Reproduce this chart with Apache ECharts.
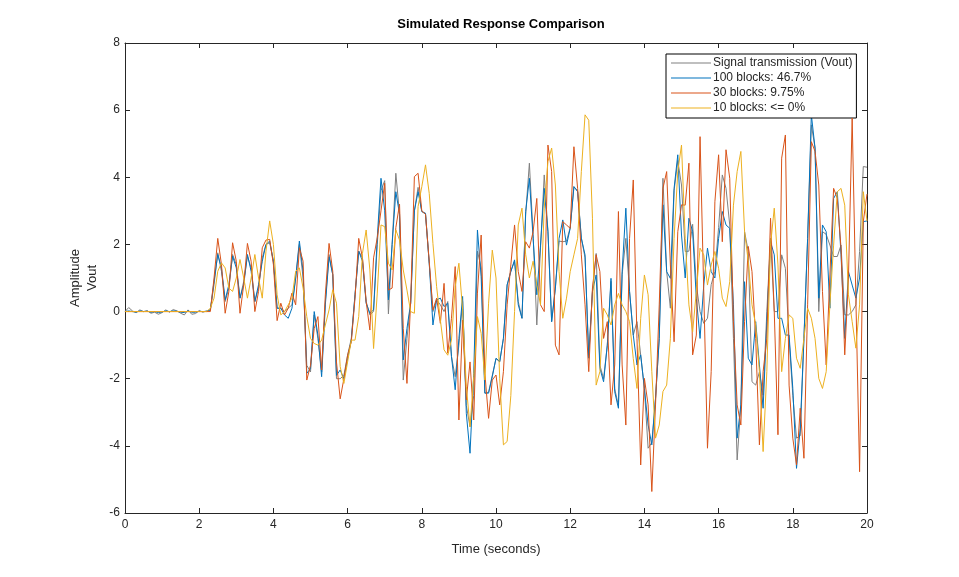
<!DOCTYPE html>
<html>
<head>
<meta charset="utf-8">
<script src="https://cdn.jsdelivr.net/npm/echarts@6/dist/echarts.min.js"></script>
<style>
  html, body { margin: 0; padding: 0; background: #fff; }
  #chart { width: 959px; height: 577px; }
</style>
</head>
<body>
<div id="chart"></div>
<script>
// sample period of the simulated data (seconds)
const sampleTime = 0.1;

const seriesNames = ['Signal transmission (Vout)', '100 blocks: 46.7%', '30 blocks: 9.75%', '10 blocks: <= 0%'];

// measured output
const measured = [
  0.0, 0.12, 0.02, -0.03, 0.05, 0.0, 0.03, -0.05, -0.02, -0.08,
  -0.03, 0.05, -0.02, 0.06, 0.02, -0.05, -0.1, 0.05, -0.08, -0.06,
  0.03, -0.02, 0.02, 0.05, 0.8, 1.75, 1.2, 0.3, 0.7, 1.7,
  1.4, 0.4, 0.9, 1.65, 1.3, 0.3, 0.7, 1.6, 2.0, 2.05,
  1.5, 0.1, 0.1, 0.0, 0.1, 0.2, 1.0, 2.0, 1.0, -1.6,
  -1.8, -0.1, -0.8, -1.8, 0.3, 1.7, 1.1, -2.0, -2.0, -1.9,
  -1.3, -0.8, 0.5, 1.8, 1.6, 0.3, -0.1, 0.0, 2.0, 3.6,
  3.9, -0.07, 2.0, 4.12, 2.9, -2.04, -0.8, 0.25, 3.0, 3.7,
  2.98, 2.9, 1.44, 0.0, 0.35, 0.2, 0.0, 0.3, -1.34, -1.94,
  -1.0, 0.3, -2.8, -3.43, -2.5, 1.8, 1.3, -2.43, -2.4, -1.9,
  -1.4, -1.5, -0.8, 0.8, 1.2, 1.5, 0.3, -0.2, 2.9, 4.42,
  2.3, -0.4, 1.9, 4.07, 2.4, -0.3, 0.7, 2.1, 2.08, 2.1,
  2.5, 3.72, 3.6, 2.2, 1.6, -1.3, 0.6, 1.73, -1.6, -2.0,
  -1.0, 0.9, -2.3, -2.8, 1.1, 2.18, 0.6, -0.7, -0.3, -1.3,
  -2.3, -4.07, -3.9, -2.6, -0.8, 3.97, 1.2, 0.1, 3.6, 4.5,
  3.77, 1.79, 1.8, 2.6, 0.8, 0.0, -0.35, -0.2, 0.8, 1.19,
  2.5, 4.07, 3.67, 2.58, -0.8, -4.42, -2.78, 2.38, 1.79, -2.09,
  -2.19, -1.8, -2.49, 0.0, 2.18, 0.0, 0.0, 1.69, 1.29, -0.8,
  -2.5, -3.77, -3.7, -0.8, 2.18, 5.56, 4.87, 0.0, 2.38, 2.3,
  1.98, 1.64, 1.64, 1.98, -0.1, -0.1, 0.0, 0.2, 1.79, 4.32,
  4.3
];

// model with 100 blocks
const blocks100 = [
  0.0, 0.02, 0.0, -0.02, 0.02, 0.0, 0.01, -0.02, 0.0, -0.03,
  -0.01, 0.02, 0.0, 0.02, 0.01, -0.02, -0.03, 0.02, -0.02, -0.02,
  0.01, 0.0, 0.01, 0.05, 0.9, 1.7, 1.3, 0.35, 0.8, 1.65,
  1.3, 0.4, 0.8, 1.7, 1.2, 0.3, 0.8, 1.5, 2.0, 2.1,
  1.5, 0.1, 0.1, -0.1, -0.2, 0.1, 1.0, 2.1, 1.2, -1.84,
  -1.7, 0.0, -0.7, -1.94, 0.2, 1.63, 1.1, -1.9, -1.74, -2.0,
  -1.4, -0.85, 0.5, 1.8, 1.5, 0.25, -0.05, 0.05, 2.2, 3.97,
  3.0, 0.35, 2.0, 3.57, 2.9, -1.44, -0.5, 0.25, 3.0, 3.57,
  2.98, 2.93, 1.44, -0.4, 0.35, 0.4, 0.15, 0.25, -1.34, -2.33,
  -0.8, 0.45, -3.03, -4.22, -1.84, 2.43, 1.04, -2.43, -2.43, -1.94,
  -1.39, -1.49, -0.8, 0.79, 1.19, 1.54, 0.2, -0.2, 2.98, 3.97,
  2.18, 0.5, 1.98, 3.67, 2.38, -0.3, 0.7, 2.18, 2.73, 1.98,
  2.48, 3.72, 3.57, 2.18, 1.69, -1.39, 0.6, 1.09, -1.69, -2.09,
  -1.0, 0.99, -2.39, -2.88, 1.19, 3.08, 0.6, -0.7, -1.59, -1.29,
  -2.29, -3.38, -3.97, -2.58, -0.8, 3.18, 1.19, 0.99, 3.67, 4.67,
  2.28, 1.0, 2.78, 2.38, 0.4, -0.8, 0.79, 1.89, 1.19, 1.0,
  2.18, 2.98, 2.58, 2.48, 0.2, -3.77, -2.78, 0.89, -1.39, -1.59,
  -0.3, -1.59, -2.88, -0.3, 2.08, 1.69, -0.2, -0.2, -0.7, -0.7,
  -2.29, -4.67, -3.48, -0.8, 2.18, 5.86, 4.87, 0.4, 2.58, 2.38,
  0.1, 3.37, 3.57, 1.69, -0.8, 1.19, 0.79, 0.4, 1.0, 2.68,
  2.7
];

// model with 30 blocks
const blocks30 = [
  0.0, 0.0, 0.0, 0.0, 0.0, 0.0, 0.0, 0.0, 0.0, 0.0,
  0.0, 0.0, 0.0, 0.0, 0.0, 0.0, 0.0, 0.0, 0.0, 0.0,
  0.0, 0.0, 0.0, 0.0, 1.0, 2.18, 1.4, -0.05, 0.6, 2.05,
  1.5, -0.05, 0.8, 2.03, 1.5, 0.0, 0.6, 1.9, 2.13, 2.15,
  1.4, -0.27, 0.25, -0.1, 0.1, 0.55, 0.2, 1.9, 1.5, -2.04,
  -1.6, -0.5, -0.15, -1.74, 0.5, 2.03, 1.2, -1.5, -2.6, -2.0,
  -1.3, -0.9, 0.4, 2.18, 1.6, 0.3, -0.55, 1.6, 2.2, 3.0,
  3.82, 0.64, 0.7, 2.5, 3.2, -0.5, -2.14, 0.3, 4.02, 4.12,
  3.0, 2.9, 1.5, 0.05, 0.4, -0.35, 0.84, -1.24, -0.2, 1.34,
  -3.23, -0.25, -2.63, -1.5, -3.23, 0.55, 2.28, -1.84, -3.18, -2.04,
  -1.89, -2.78, -1.79, 0.2, 1.39, 2.58, 1.19, 0.6, 2.08, 1.89,
  2.38, 3.37, 0.2, 0.0, 4.96, 4.17, -1.0, -1.29, 2.68, 2.58,
  2.48, 4.91, 3.67, 1.69, 0.2, -1.79, 0.7, 1.69, 1.19, -0.8,
  -0.3, -2.78, -1.59, 2.98, -1.59, -3.38, 2.18, 3.92, -0.8, -4.57,
  -1.99, -2.78, -5.36, -2.78, 0.2, 3.67, 4.17, 1.39, -0.9, 2.38,
  3.18, 3.17, 4.42, -1.29, -0.7, 5.21, 0.6, -4.07, -1.79, 3.27,
  4.67, 2.08, 4.82, 3.97, -0.3, -2.78, -3.38, -0.3, 1.94, 1.19,
  -0.8, -3.97, -1.79, -0.8, 2.78, 0.0, -3.67, 4.57, 5.26, -2.19,
  -3.77, -4.57, -2.88, -4.37, 0.2, 5.06, 4.77, 3.77, 0.6, -1.59,
  1.09, 3.67, 3.37, 1.89, -1.29, 1.0, 5.76, 0.4, -4.77, 2.68,
  3.5
];

// model with 10 blocks
const blocks10 = [
  0.0, 0.0, 0.0, 0.0, 0.0, 0.0, 0.0, 0.0, 0.0, 0.0,
  0.0, 0.0, 0.0, 0.0, 0.0, 0.0, 0.0, 0.0, 0.0, 0.0,
  0.0, 0.0, 0.0, 0.1, 0.4, 1.2, 1.45, 1.3, 0.7, 0.6,
  1.0, 1.55, 1.0, 0.4, 1.0, 1.7, 1.0, 0.4, 1.8, 2.7,
  2.0, 0.5, -0.1, 0.0, 0.2, 0.4, 1.2, 1.3, 0.7, -0.15,
  -0.8, -0.95, -1.0, -0.85, -0.4, 0.05, 0.65, 0.25, -1.64, -2.14,
  -1.5, -0.85, -0.85, -0.15, 1.73, 2.43, 1.24, -1.1, 0.55, 2.58,
  2.53, 1.44, 1.24, 2.43, 2.13, 1.24, 0.64, 0.0, -0.05, 3.13,
  3.72, 4.37, 3.52, 2.03, 0.74, -0.25, -1.14, -1.3, -0.85, 0.74,
  1.44, 0.05, -2.23, -3.43, -1.94, -0.15, -0.65, -2.04, 0.25, 1.83,
  1.0, -2.0, -3.97, -3.87, -2.5, 0.0, 2.58, 3.08, 1.7, 1.0,
  1.5, 0.8, 0.2, 3.08, 4.47, 4.87, 3.77, 1.19, -0.2, 0.4,
  1.19, 1.69, 2.18, 4.17, 5.86, 5.7, 2.78, -2.19, -1.79, 0.1,
  -0.1, -0.4, 0.2, 0.54, 0.2, 0.0, -0.3, -1.4, -2.29, -0.2,
  1.09, 0.5, -1.79, -3.77, -3.38, -2.38, -2.19, -0.8, 2.18, 4.17,
  4.96, 2.18, 0.2, -0.6, 0.6, 1.89, 1.69, 0.79, 1.39, 1.79,
  1.29, 0.4, 0.15, 0.89, 3.17, 4.17, 4.77, 2.38, 1.49, 0.2,
  -0.4, -1.79, -4.17, -1.79, 1.98, 3.08, 1.39, -1.79, -0.8, -0.1,
  -0.2, -1.39, -1.69, -0.8, 0.1, -0.2, -0.8, -1.99, -2.29, -1.79,
  0.2, 1.98, 3.57, 3.67, 3.17, 0.5, -0.3, -1.09, 0.2, 3.57,
  2.7
];

const lineColors = ['#808080', '#0072BD', '#D95319', '#EDB120'];
const axisColor = '#262626';
const fontFamily = 'Liberation Sans, Arial, sans-serif';

const toPoints = (values) => values.map((v, i) => [+(i * sampleTime).toFixed(1), v]);

const chart = echarts.init(document.getElementById('chart'), null, { renderer: 'canvas' });

/* 坐标轴公共样式：刻度朝内，MATLAB 风格 */
const boxAxis = (extra) => Object.assign({
  type: 'value',
  axisLine: { show: true, onZero: false, lineStyle: { color: axisColor, width: 1 } },
  axisTick: { show: true, inside: true, length: 5, lineStyle: { color: axisColor } },
  splitLine: { show: false },
}, extra);

const option = {
  backgroundColor: '#fff',
  animation: false,
  title: {
    text: 'Simulated Response Comparison',
    left: 496, top: 13, textAlign: 'center',
    textStyle: { fontFamily, fontSize: 13, fontWeight: 'bold', color: '#000' }
  },
  legend: {
    orient: 'vertical',
    left: 666, top: 54,
    icon: 'rect',
    itemWidth: 40, itemHeight: 1, itemGap: 1,
    padding: [2, 4, 3, 5],
    backgroundColor: '#fff',
    borderColor: '#000', borderWidth: 1, borderRadius: 0,
    textStyle: { fontFamily, fontSize: 12, color: axisColor, lineHeight: 14, padding: [0, 0, 0, -3] },
    data: seriesNames
  },
  grid: { left: 125, right: 92, top: 43, bottom: 64, containLabel: false },
  xAxis: [
    boxAxis({
      min: 0, max: 20, interval: 2,
      name: 'Time (seconds)', nameLocation: 'middle', nameGap: 30,
      nameTextStyle: { fontFamily, fontSize: 13, color: axisColor },
      axisLabel: { fontFamily, fontSize: 12, color: axisColor, margin: 6 }
    }),
    boxAxis({ position: 'top', min: 0, max: 20, interval: 2, axisLabel: { show: false } })
  ],
  yAxis: [
    boxAxis({
      min: -6, max: 8, interval: 2,
      name: 'Amplitude\nVout', nameLocation: 'middle', nameGap: 24, nameRotate: 90,
      nameMoveOverlap: false,
      nameTextStyle: { fontFamily, fontSize: 13, color: axisColor, lineHeight: 17 },
      axisLabel: { fontFamily, fontSize: 12, color: axisColor, margin: 5 }
    }),
    boxAxis({ position: 'right', min: -6, max: 8, interval: 2, axisLabel: { show: false } })
  ],
  series: [measured, blocks100, blocks30, blocks10].map((vals, k) => ({
    name: seriesNames[k],
    type: 'line',
    data: toPoints(vals),
    xAxisIndex: 0, yAxisIndex: 0,
    symbol: 'none', showSymbol: false,
    color: lineColors[k],
    lineStyle: { width: 1, color: lineColors[k] },
    z: 2 + k
  }))
};

chart.setOption(option);
</script>
</body>
</html>
